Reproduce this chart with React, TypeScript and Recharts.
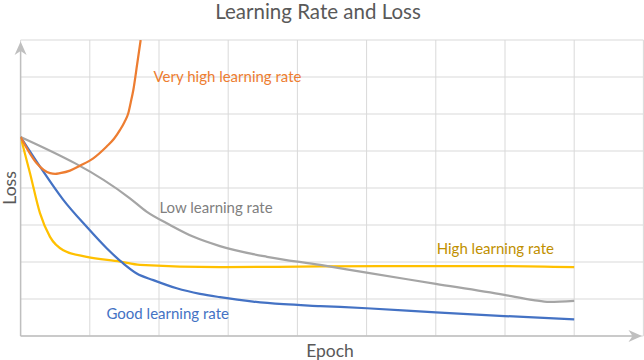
import React from 'react';
import { LineChart, Line, XAxis, YAxis, CartesianGrid } from 'recharts';

// ---- data (x = epoch units, y = loss units) ----
const veryHighX = [0, 0.233, 0.425, 0.5, 0.57, 0.714, 0.858, 1.05, 1.244, 1.35, 1.437, 1.5, 1.556, 1.59, 1.629, 1.686, 1.735];
const veryHighY = [5.38, 4.67, 4.4, 4.38, 4.4, 4.47, 4.6, 4.8, 5.12, 5.33, 5.57, 5.78, 6.02, 6.3, 6.65, 7.37, 8.0];

const lowX = [0, 1.58, 1.82, 2.16, 2.5, 2.88, 3.56, 4.33, 5.0, 6.0, 6.99, 7.41, 7.64, 8.0];
const lowY = [5.38, 3.72, 3.36, 3.0, 2.68, 2.43, 2.14, 1.92, 1.71, 1.41, 1.11, 0.97, 0.92, 0.95];

const highX = [0, 0.136, 0.28, 0.425, 0.617, 0.955, 1.437, 1.725, 2.88, 4.33, 7.02, 8.0];
const highY = [5.38, 4.4, 3.32, 2.68, 2.32, 2.14, 2.01, 1.92, 1.86, 1.88, 1.89, 1.86];

const goodX = [0, 0.28, 0.617, 0.955, 1.244, 1.484, 1.678, 1.918, 2.256, 2.592, 2.88, 3.36, 3.8, 4.33, 5.0, 6.0, 6.99, 8.0];
const goodY = [5.38, 4.58, 3.68, 2.95, 2.37, 1.96, 1.69, 1.51, 1.29, 1.14, 1.05, 0.93, 0.86, 0.81, 0.75, 0.64, 0.54, 0.45];

const xTicks = [0, 1, 2, 3, 4, 5, 6, 7, 8, 9];
const yTicks = [0, 1, 2, 3, 4, 5, 6, 7, 8];

const title = 'Learning Rate and Loss';
const xLabel = 'Epoch';
const yLabel = 'Loss';

const zip = (xs: number[], ys: number[]) => xs.map((x, i) => ({ x, y: ys[i] }));

const W = 644;
const H = 360;
const M = { top: 40, right: 0.6, bottom: 24, left: 20.6 };
const FONT = 'Lato, "Liberation Sans", sans-serif';

const Decor = () => {
  const left = M.left;
  const bottom = H - M.bottom;
  const axisColor = '#BFBFBF';
  return (
    <g>
      <line x1={left} y1={bottom} x2={left} y2={48} stroke={axisColor} strokeWidth={1.5} />
      <polygon points={`${left},41.5 ${left + 6},55 ${left},51 ${left - 6},55`} fill={axisColor} />
      <line x1={left} y1={bottom} x2={634} y2={bottom} stroke={axisColor} strokeWidth={1.5} />
      <polygon points={`642,${bottom} 628.5,${bottom - 6} 632.5,${bottom} 628.5,${bottom + 6}`} fill={axisColor} />
      <text x={318} y={11} textAnchor="middle" dominantBaseline="central" fontFamily={FONT} fontSize={20.5} fill="#595959">{title}</text>
      <text x={330} y={350.5} textAnchor="middle" dominantBaseline="central" fontFamily={FONT} fontSize={17.5} fill="#595959">{xLabel}</text>
      <text x={9} y={188} textAnchor="middle" dominantBaseline="central" fontFamily={FONT} fontSize={17.5} fill="#595959" transform="rotate(-90 9 188)">{yLabel}</text>
      <text x={227.5} y={76} textAnchor="middle" dominantBaseline="central" fontFamily={FONT} fontSize={15} fill="#ED7D31">Very high learning rate</text>
      <text x={216} y={207} textAnchor="middle" dominantBaseline="central" fontFamily={FONT} fontSize={15} fill="#7F7F7F">Low learning rate</text>
      <text x={495.3} y={248} textAnchor="middle" dominantBaseline="central" fontFamily={FONT} fontSize={15} fill="#BF9000">High learning rate</text>
      <text x={167.7} y={313} textAnchor="middle" dominantBaseline="central" fontFamily={FONT} fontSize={15} fill="#4472C4">Good learning rate</text>
    </g>
  );
};

export default function App() {
  return (
    <div style={{ position: 'absolute', left: 0, top: 0, width: W, height: H, background: '#fff' }}>
      <LineChart width={W} height={H} margin={M}>
        <CartesianGrid stroke="#D9D9D9" strokeWidth={1} />
        <XAxis type="number" dataKey="x" domain={[0, 9]} ticks={xTicks} hide allowDataOverflow />
        <YAxis type="number" dataKey="y" domain={[0, 8]} ticks={yTicks} hide allowDataOverflow />
        <Line data={zip(highX, highY)} dataKey="y" type="monotone" stroke="#FFC000" strokeWidth={2.25} dot={false} isAnimationActive={false} />
        <Line data={zip(goodX, goodY)} dataKey="y" type="monotone" stroke="#4472C4" strokeWidth={2.25} dot={false} isAnimationActive={false} />
        <Line data={zip(lowX, lowY)} dataKey="y" type="monotone" stroke="#A5A5A5" strokeWidth={2.25} dot={false} isAnimationActive={false} />
        <Line data={zip(veryHighX, veryHighY)} dataKey="y" type="monotone" stroke="#ED7D31" strokeWidth={2.25} dot={false} isAnimationActive={false} />
        <Decor />
      </LineChart>
    </div>
  );
}
